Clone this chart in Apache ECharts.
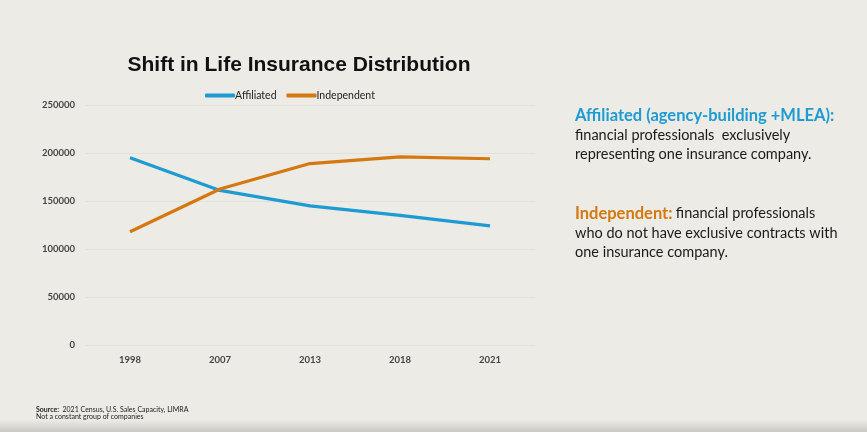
<!DOCTYPE html>
<html><head><meta charset="utf-8">
<script src="https://cdn.jsdelivr.net/npm/echarts@6/dist/echarts.min.js"></script>
<style>html,body{margin:0;padding:0;background:#ECEBE6;}#c{width:867px;height:432px;}</style>
</head><body><div id="c"></div>
<script>
const categories = ['1998','2007','2013','2018','2021'];
const affiliated = [195000, 161000, 145000, 135000, 124000];
const independent = [118000, 162500, 189000, 196000, 194000];
const yTicks = [0, 50000, 100000, 150000, 200000, 250000];

const chart = echarts.init(document.getElementById('c'));
const F = 'Lato, "Noto Sans", sans-serif';
chart.setOption({
  backgroundColor: '#ECEBE6',
  animation: false,
  title: {
    text: 'Shift in Life Insurance Distribution',
    left: 294, top: 50, textAlign: 'center',
    textStyle: {fontFamily: 'Liberation Sans, Arial, sans-serif', fontSize: 21, fontWeight: 'bold', color: '#111'}
  },
  legend: {
    top: 85, left: 200,
    itemWidth: 30, itemHeight: 4, itemGap: 10,
    icon: 'roundRect',
    textStyle: {fontFamily: F, fontSize: 10.5, color: '#222', padding: [0,0,0,-5]},
    data: ['Affiliated', 'Independent']
  },
  grid: {left: 85, right: 332, top: 105, bottom: 87},
  xAxis: {
    type: 'category', data: categories, boundaryGap: true,
    axisLine: {show: false}, axisTick: {show: false},
    axisLabel: {fontFamily: F, fontSize: 9.5, fontWeight: 'bold', color: '#444', margin: 10}
  },
  yAxis: {
    type: 'value', min: yTicks[0], max: yTicks[yTicks.length-1], interval: 50000,
    axisLine: {show: false}, axisTick: {show: false},
    axisLabel: {fontFamily: F, fontSize: 9.5, fontWeight: 'bold', color: '#444', margin: 10, formatter: v => String(v)},
    splitLine: {lineStyle: {color: '#E2E0DA', width: 1}}
  },
  series: [
    {name: 'Affiliated', type: 'line', data: affiliated, showSymbol: false, symbol: 'none',
     lineStyle: {width: 3.2, color: '#1E9BD2'}, itemStyle: {color: '#1E9BD2'}},
    {name: 'Independent', type: 'line', data: independent, showSymbol: false, symbol: 'none',
     lineStyle: {width: 3.2, color: '#D4780F'}, itemStyle: {color: '#D4780F'}}
  ],
  graphic: [
    {type: 'rect', left: 0, top: 420, shape: {width: 867, height: 12}, z: -1,
     style: {fill: new echarts.graphic.LinearGradient(0,0,0,1,[{offset:0,color:'#ECEBE6'},{offset:1,color:'#C9C8C3'}])}},
    {type: 'text', left: 575, top: 107, style: {text: 'Affiliated (agency-building +MLEA):', font: 'bold 16.5px ' + F, fill: '#1E9BD2'}},
    {type: 'text', left: 575, top: 128, style: {text: 'financial professionals  exclusively', font: '14.5px ' + F, fill: '#1a1a1a'}},
    {type: 'text', left: 575, top: 147, style: {text: 'representing one insurance company.', font: '14.5px ' + F, fill: '#1a1a1a'}},
    {type: 'text', left: 575, top: 205, style: {rich: {a: {font: 'bold 16.5px ' + F, fill: '#D4780F'}, b: {font: '14.5px ' + F, fill: '#1a1a1a'}}, text: '{a|Independent:} {b|financial professionals}'}},
    {type: 'text', left: 575, top: 226, style: {text: 'who do not have exclusive contracts with', font: '14.5px ' + F, fill: '#1a1a1a'}},
    {type: 'text', left: 575, top: 245, style: {text: 'one insurance company.', font: '14.5px ' + F, fill: '#1a1a1a'}},
    {type: 'text', left: 36, top: 404, style: {rich: {a: {font: 'bold 7px ' + F, fill: '#222'}, b: {font: '7px ' + F, fill: '#222'}}, text: '{a|Source:} {b|2021 Census, U.S. Sales Capacity, LIMRA}'}},
    {type: 'text', left: 36, top: 413, style: {text: 'Not a constant group of companies', font: '7px ' + F, fill: '#222'}}
  ]
});
</script></body></html>
